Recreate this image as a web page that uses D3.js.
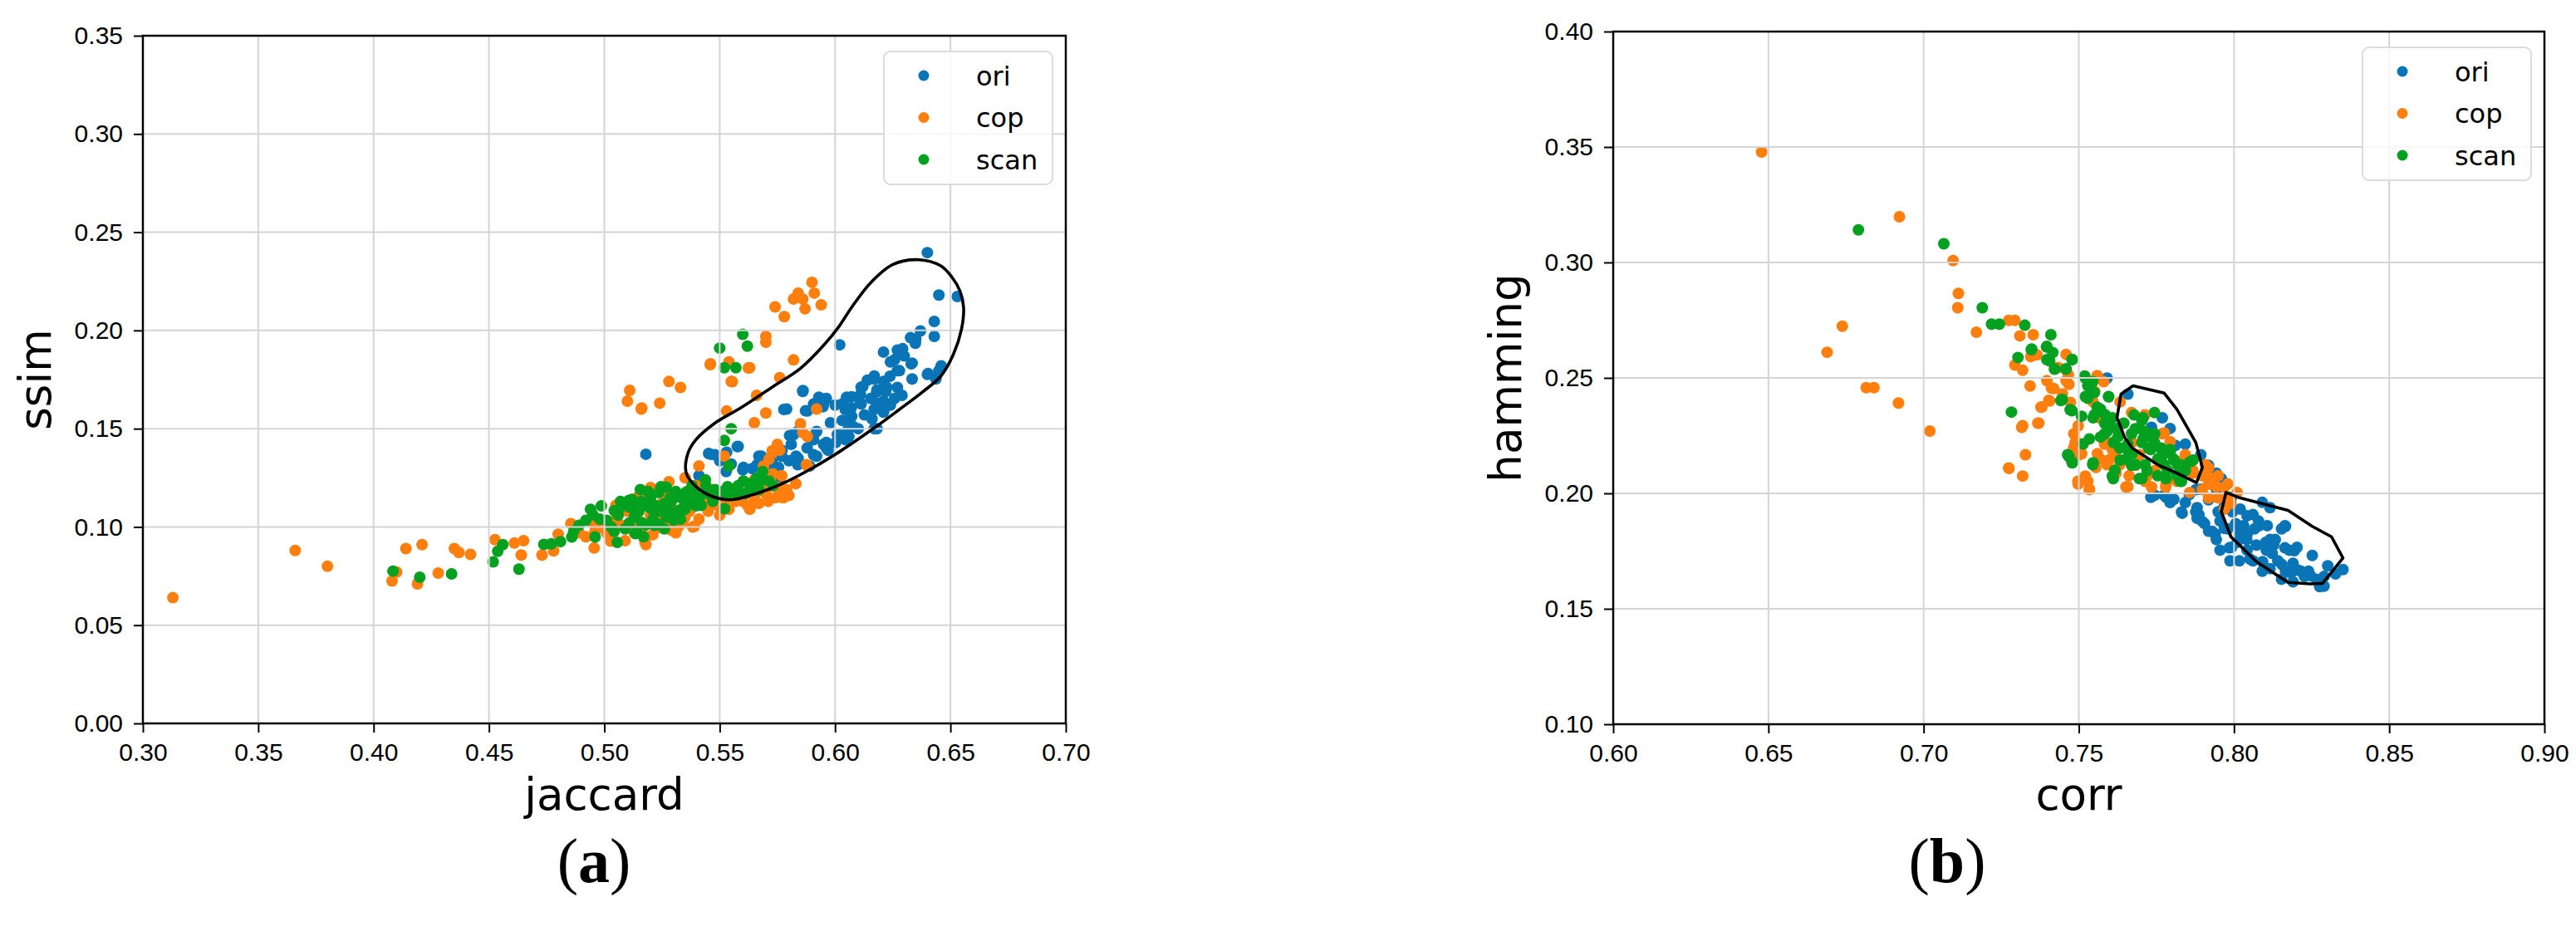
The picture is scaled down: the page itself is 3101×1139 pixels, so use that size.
<!DOCTYPE html>
<html lang="en">
  <head>
    <meta charset="UTF-8" />
    <title>Similarity scatter panels</title>
    <script src="https://d3js.org/d3.v7.min.js"></script>
    <style>
      body {
        margin: 0;
        background: #fff;
      }
      svg {
        display: block;
        font-family: "DejaVu Sans", sans-serif;
      }
      .grid line {
        stroke: #d4d4d4;
        stroke-width: 2px;
      }
      .axis path {
        display: none;
      }
      .axis line {
        stroke: #000;
        stroke-width: 2px;
      }
      .axis text {
        font-size: 30px;
        fill: #000;
      }
    </style>
  </head>
  <body>
    <svg width="3101" height="1139"></svg>

    <script>
      const seriesNames = ["ori", "cop", "scan"];
      const seriesColors = ["#0a75b6", "#ff7f0e", "#04a020"];

      // panel (a): jaccard vs ssim
      const aXTicks = [0.3, 0.35, 0.4, 0.45, 0.5, 0.55, 0.6, 0.65, 0.7];
      const aYTicks = [0, 0.05, 0.1, 0.15, 0.2, 0.25, 0.3, 0.35];

      const aOri = [
        [0.640,0.2396],[0.645,0.218],[0.653,0.2173],[0.643,0.2046],[0.637,0.1997],[0.635,0.1957],[0.643,0.197],
        [0.602,0.1927],[0.621,0.189],[0.627,0.19],[0.63,0.187],[0.624,0.184],[0.633,0.183],[0.627,0.1795],
        [0.64,0.1776],[0.645,0.1795],[0.646,0.182],[0.614,0.1747],[0.617,0.1768],[0.612,0.1714],[0.621,0.174],
        [0.618,0.1687],[0.586,0.169],[0.611,0.1674],[0.605,0.166],[0.593,0.166],[0.595,0.163],[0.6,0.162],
        [0.607,0.1606],[0.579,0.16],[0.588,0.159],[0.621,0.159],[0.624,0.162],[0.616,0.155],[0.605,0.154],
        [0.598,0.153],[0.617,0.15],[0.601,0.147],[0.606,0.146],[0.59,0.1445],[0.582,0.147],[0.595,0.142],
        [0.581,0.142],[0.577,0.139],[0.592,0.136],[0.584,0.135],[0.589,0.131],[0.58,0.1337],[0.568,0.136],
        [0.558,0.141],[0.546,0.137],[0.518,0.137],[0.553,0.138],[0.55,0.1337],[0.56,0.129],[0.555,0.132],
        [0.573,0.131],[0.568,0.1256],[0.576,0.124],[0.564,0.1297],[0.597,0.139],[0.608,0.151],[0.611,0.163],
        [0.627,0.171],[0.629,0.167],[0.618,0.163],[0.622,0.169],[0.6327,0.1963],[0.6348,0.1935],[0.6293,0.1907],
        [0.6258,0.1851],[0.6334,0.1834],[0.6458,0.1809],[0.6403,0.1781],[0.6437,0.1753],[0.6334,0.1753],
        [0.6279,0.1795],[0.6238,0.1767],[0.6169,0.1753],[0.6113,0.1711],[0.6182,0.1697],[0.6224,0.1711],
        [0.6258,0.1654],[0.621,0.164],[0.6155,0.1654],[0.6113,0.1626],[0.6169,0.1598],[0.621,0.1584],
        [0.6127,0.157],[0.6072,0.1563],[0.6044,0.1598],[0.6072,0.1662],[0.6031,0.1626],[0.5962,0.1654],
        [0.5948,0.1612],[0.5907,0.1626],[0.6031,0.1542],[0.6058,0.15],[0.61,0.15],[0.6182,0.15],[0.6017,0.1472],
        [0.6045,0.1444],[0.6003,0.143],[0.5962,0.143],[0.592,0.1486],[0.5907,0.1444],[0.5962,0.1402],
        [0.5879,0.1402],[0.5838,0.1486],[0.5803,0.1465],[0.5861,0.1694],[0.5778,0.1598],[0.5872,0.1591],
        [0.5907,0.1367],[0.5831,0.136],[0.5838,0.1317],[0.5769,0.136],[0.5727,0.1331],[0.567,0.136],
        [0.5662,0.1317],[0.5755,0.1303],[0.5603,0.1303],[0.5576,0.1409],[0.5452,0.1374],[0.5479,0.1367],
        [0.5528,0.1282],[0.541,0.1261]
      ];

      const aCop = [
        [0.313,0.064],[0.366,0.088],[0.38,0.08],[0.408,0.0725],[0.41,0.077],[0.414,0.089],[0.421,0.091],
        [0.419,0.071],[0.428,0.0765],[0.435,0.089],[0.437,0.087],[0.442,0.086],[0.4526,0.0935],[0.461,0.0918],
        [0.465,0.093],[0.464,0.0857],[0.473,0.0857],[0.478,0.0878],[0.48,0.0963],[0.4855,0.1017],[0.492,0.095],
        [0.496,0.098],[0.4956,0.0893],[0.5027,0.0928],[0.518,0.091],[0.518,0.095],[0.5228,0.0994],[0.529,0.0984],
        [0.539,0.1003],[0.541,0.131],[0.535,0.125],[0.528,0.123],[0.512,0.1076],[0.5228,0.1048],[0.535,0.116],
        [0.59,0.2245],[0.591,0.219],[0.584,0.219],[0.582,0.216],[0.586,0.216],[0.587,0.211],[0.594,0.213],
        [0.574,0.212],[0.578,0.207],[0.57,0.197],[0.57,0.194],[0.582,0.185],[0.546,0.183],[0.554,0.184],
        [0.563,0.181],[0.555,0.174],[0.528,0.174],[0.533,0.171],[0.511,0.1695],[0.51,0.164],[0.516,0.16],
        [0.524,0.163],[0.576,0.176],[0.566,0.167],[0.553,0.159],[0.57,0.158],[0.592,0.16],[0.565,0.153],
        [0.585,0.1525],[0.586,0.148],[0.588,0.146],[0.575,0.142],[0.573,0.138],[0.576,0.139],[0.569,0.131],
        [0.588,0.131],[0.573,0.127],[0.565,0.124],[0.577,0.115],[0.563,0.109],[0.552,0.136],[0.5727,0.1388],
        [0.5714,0.1345],[0.5769,0.1261],[0.5776,0.1149],[0.5631,0.1093],[0.5741,0.1149],[0.5686,0.1184],
        [0.5452,0.1135],[0.5383,0.1],[0.5176,0.0924],[0.5876,0.1317],[0.5459,0.1826],[0.5624,0.1809],
        [0.5555,0.1739],[0.5162,0.1605],[0.505,0.104],[0.51,0.108],[0.515,0.103],[0.52,0.106],[0.525,0.112],
        [0.53,0.109],[0.535,0.105],[0.54,0.112],[0.545,0.108],[0.548,0.115],[0.552,0.112],[0.558,0.118],
        [0.56,0.113],[0.565,0.115],[0.57,0.117],[0.575,0.12],[0.58,0.116],[0.513,0.097],[0.532,0.1],
        [0.55,0.106],[0.536,0.118],[0.527,0.117],
        [0.498,0.1],[0.501,0.097],[0.507,0.101],[0.509,0.093],[0.512,0.1],[0.516,0.099],[0.521,0.096],
        [0.524,0.102],[0.528,0.104],[0.531,0.097],[0.534,0.102],[0.537,0.108],[0.541,0.104],[0.543,0.115],
        [0.546,0.119],[0.549,0.111],[0.554,0.109],[0.557,0.113],[0.562,0.111],[0.567,0.112],[0.571,0.113],
        [0.579,0.119],[0.583,0.122],[0.572,0.124],[0.54,0.121],[0.52,0.12],[0.515,0.116],[0.505,0.111],
        [0.494,0.103],[0.489,0.097]
      ];

      const aScan = [
        [0.4084,0.0775],[0.42,0.0744],[0.4338,0.0761],[0.4518,0.0822],[0.4538,0.0876],[0.456,0.091],[0.463,0.0785],
        [0.4738,0.0911],[0.477,0.0914],[0.481,0.0925],[0.4859,0.0949],[0.4867,0.0977],[0.489,0.1008],[0.492,0.1034],
        [0.494,0.109],[0.495,0.1062],[0.4987,0.1107],[0.496,0.0949],[0.5056,0.0921],[0.5043,0.1083],[0.5075,0.1105],
        [0.512,0.114],[0.5148,0.1119],[0.5188,0.1105],[0.514,0.0977],[0.517,0.095],[0.52,0.1147],[0.5236,0.1175],
        [0.5268,0.1203],[0.526,0.1119],[0.528,0.1076],[0.53,0.1034],[0.5333,0.109],[0.5365,0.1133],[0.538,0.121],
        [0.541,0.1147],[0.5236,0.1013],[0.5108,0.102],[0.5043,0.0977],[0.501,0.1034],[0.5156,0.119],
        [0.56,0.198],[0.55,0.191],[0.562,0.192],[0.552,0.181],[0.557,0.181],[0.555,0.15],[0.552,0.144],[0.554,0.131],
        [0.5438,0.124],[0.548,0.119],[0.5534,0.1205],[0.5603,0.1233],[0.5659,0.1247],[0.5686,0.1282],[0.5714,0.1233],
        [0.5631,0.1191],[0.5576,0.1163],[0.5521,0.1093],[0.5355,0.1177],[0.5397,0.1107],[0.5286,0.1149],
        [0.5245,0.1205],[0.5204,0.1093],[0.5162,0.1022],[0.5135,0.0966],[0.5217,0.1008],[0.5314,0.1079],
        [0.5107,0.1135],[0.545,0.117],[0.558,0.121],[0.565,0.121],[0.507,0.113],[0.515,0.108],[0.533,0.115],
        [0.519,0.118],[0.535,0.112],
        [0.498,0.104],[0.503,0.1],[0.506,0.106],[0.509,0.099],[0.511,0.11],[0.516,0.113],[0.518,0.101],
        [0.521,0.104],[0.522,0.111],[0.524,0.108],[0.527,0.105],[0.529,0.113],[0.531,0.118],[0.533,0.104],
        [0.535,0.109],[0.537,0.115],[0.539,0.118],[0.542,0.111],[0.544,0.121],[0.547,0.113],[0.55,0.118],
        [0.553,0.116],[0.556,0.119],[0.561,0.117],[0.563,0.122],[0.567,0.119],[0.569,0.124],[0.573,0.121],
        [0.526,0.099],[0.513,0.105]
      ];

      const aContour = [
        [0.6362,0.236],[0.6458,0.2329],[0.6506,0.2272],[0.6541,0.2202],[0.6557,0.2118],[0.6548,0.2006],
        [0.6513,0.1879],[0.6458,0.1767],[0.6375,0.1683],[0.6279,0.1598],[0.6182,0.1514],[0.6044,0.1402],
        [0.5907,0.1303],[0.5769,0.1219],[0.5659,0.117],[0.5548,0.1138],[0.5466,0.1156],[0.5397,0.1205],
        [0.5355,0.1275],[0.5362,0.1374],[0.5397,0.1444],[0.5479,0.1528],[0.559,0.1605],[0.5727,0.1711],
        [0.5852,0.1809],[0.5948,0.1921],[0.6017,0.202],[0.6072,0.2118],[0.6155,0.2244],[0.6251,0.2336]
      ];

      // panel (b): corr vs hamming
      const bXTicks = [0.6, 0.65, 0.7, 0.75, 0.8, 0.85, 0.9];
      const bYTicks = [0.1, 0.15, 0.2, 0.25, 0.3, 0.35, 0.4];

      const bOri = [
        [0.7591,0.2499],[0.7658,0.243],[0.7769,0.2327],[0.7794,0.2281],[0.7843,0.2213],[0.7893,0.2167],
        [0.7918,0.2121],[0.7943,0.2087],[0.7732,0.1983],[0.7781,0.1983],[0.7794,0.196],[0.7831,0.1919],
        [0.7893,0.2018],[0.7881,0.1892],[0.7905,0.1869],[0.793,0.1835],[0.7955,0.188],[0.7967,0.1938],
        [0.798,0.1846],[0.7992,0.1766],[0.7987,0.1708],[0.8017,0.1823],[0.8042,0.1903],[0.8066,0.1846],
        [0.8061,0.1708],[0.8091,0.1663],[0.8104,0.1754],[0.8116,0.18],[0.8141,0.1708],[0.8153,0.1846],
        [0.8166,0.1857],[0.8128,0.1777],[0.8178,0.1754],[0.8203,0.1766],[0.8166,0.1663],[0.819,0.1697],
        [0.8215,0.1663],[0.8227,0.164],[0.824,0.1663],[0.8265,0.1628],[0.829,0.1598],[0.829,0.164],
        [0.8327,0.1651],[0.8351,0.167],[0.8302,0.1686],[0.819,0.1617],[0.8153,0.1628],[0.8116,0.1674],
        [0.8042,0.1754],[0.8017,0.1708],[0.7955,0.1754],[0.7943,0.18],[0.8005,0.1869],[0.8091,0.1961],
        [0.8116,0.1938],[0.8079,0.188],[0.7881,0.1938],[0.7843,0.196],[0.7856,0.1995],[0.7918,0.1972],
        [0.7943,0.2018],[0.7992,0.1983],[0.8042,0.1823],[0.8252,0.1731],
        [0.7734,0.2286],[0.7811,0.2208],[0.7775,0.1992],[0.7806,0.1974],[0.7744,0.1992],[0.7833,0.1914],
        [0.7877,0.2016],[0.7887,0.1908],[0.7898,0.1878],[0.7918,0.1836],[0.7939,0.1824],[0.7949,0.192],
        [0.7959,0.2064],[0.7995,0.192],[0.802,0.1932],[0.8015,0.186],[0.7985,0.1764],[0.801,0.1788],
        [0.8041,0.18],[0.8051,0.1716],[0.8061,0.1908],[0.8082,0.186],[0.8102,0.1788],[0.8107,0.186],
        [0.8123,0.174],[0.8092,0.1704],[0.8164,0.186],[0.8164,0.1764],[0.8194,0.1752],[0.8154,0.1692],
        [0.8184,0.1656],[0.8205,0.1668],[0.8225,0.1656],[0.8246,0.1644],[0.8276,0.1596],[0.8133,0.18],
        [0.8072,0.1776],[0.8031,0.186],[0.7969,0.1848],[0.7877,0.192]
      ];

      const bCop = [
        [0.6478,0.3478],[0.6922,0.3198],[0.7095,0.3008],[0.7112,0.2866],[0.711,0.2804],[0.6738,0.2724],
        [0.6689,0.2611],[0.6815,0.2458],[0.684,0.2458],[0.6919,0.2391],[0.702,0.227],[0.717,0.2698],
        [0.7274,0.2749],[0.7294,0.2749],[0.731,0.2682],[0.7353,0.2687],[0.7294,0.2556],[0.7319,0.2533],
        [0.7343,0.2465],[0.7397,0.2488],[0.7412,0.2456],[0.7378,0.2373],[0.7403,0.2403],[0.7368,0.2304],
        [0.7319,0.2293],[0.7328,0.2167],[0.7274,0.211],[0.7319,0.2075],[0.7447,0.2431],[0.7459,0.2488],
        [0.7459,0.2602],[0.7434,0.2545],[0.7484,0.2258],[0.7491,0.2224],[0.7501,0.2167],[0.7497,0.2052],
        [0.7521,0.2075],[0.7534,0.2018],[0.7559,0.251],[0.7551,0.2442],[0.7546,0.2396],[0.7566,0.2327],
        [0.7583,0.2213],[0.7596,0.2144],[0.762,0.2087],[0.7608,0.219],[0.7658,0.2029],[0.7682,0.2121],
        [0.772,0.2075],[0.7744,0.2098],[0.7781,0.2041],[0.7819,0.2064],[0.7843,0.2121],[0.7868,0.2087],
        [0.7905,0.2075],[0.793,0.2064],[0.7943,0.2029],[0.798,0.2041],[0.7769,0.2258],[0.7794,0.2224],
        [0.7695,0.2167],[0.7843,0.2167],[0.767,0.235],[0.7633,0.2396],[0.7918,0.211],
        [0.7345,0.2592],[0.7365,0.26],[0.7419,0.2454],[0.7468,0.2472],[0.7466,0.2514],[0.7381,0.2374],
        [0.7406,0.24],[0.7316,0.2286],[0.7371,0.2304],[0.7275,0.2108],[0.7473,0.2394],[0.7498,0.2292],
        [0.7488,0.222],[0.7483,0.2196],[0.7509,0.2172],[0.7498,0.204],[0.7529,0.2052],[0.7534,0.2016],
        [0.758,0.2484],[0.756,0.2172],[0.7555,0.2112],[0.757,0.2148],[0.7591,0.222],[0.7591,0.2124],
        [0.7616,0.2172],[0.7632,0.2124],[0.7652,0.2028],[0.7662,0.2076],[0.7713,0.2052],[0.7734,0.2028],
        [0.7713,0.234],[0.7775,0.2262],[0.778,0.2028],[0.7816,0.2052],[0.7846,0.2124],[0.7867,0.21],
        [0.7898,0.2076],[0.7908,0.2124],[0.7918,0.204],[0.7928,0.2064],[0.7949,0.2076],[0.7969,0.2028],
        [0.7979,0.198],[0.799,0.1956],[0.801,0.2004],[0.7898,0.2016],[0.7857,0.2004],[0.7918,0.198],
        [0.7949,0.198],[0.7969,0.1932],[0.7672,0.222],[0.7765,0.2148],[0.7826,0.2136]
      ];

      const bScan = [
        [0.679,0.3141],[0.7065,0.3081],[0.7189,0.2804],[0.7219,0.2733],[0.7244,0.2733],[0.7326,0.2728],
        [0.7304,0.2588],[0.741,0.2687],[0.7397,0.2637],[0.7348,0.2625],[0.7397,0.2579],[0.7422,0.254],
        [0.7459,0.254],[0.7479,0.2579],[0.7283,0.2352],[0.7447,0.2407],[0.7472,0.2362],[0.7464,0.2167],
        [0.7479,0.2132],[0.7521,0.2499],[0.7534,0.2465],[0.7521,0.2419],[0.7546,0.2327],[0.7534,0.2236],
        [0.7546,0.2132],[0.7596,0.2419],[0.7559,0.2373],[0.7608,0.2327],[0.762,0.2281],[0.7583,0.2258],
        [0.7645,0.2304],[0.767,0.2258],[0.7658,0.2213],[0.7695,0.2281],[0.7707,0.2236],[0.7732,0.219],
        [0.7744,0.2258],[0.7769,0.2167],[0.7794,0.219],[0.7806,0.2144],[0.7819,0.2121],[0.7843,0.2098],
        [0.7781,0.2064],[0.772,0.2098],[0.767,0.2121],[0.7633,0.2144],[0.7608,0.2075],[0.7695,0.2064],
        [0.7868,0.2144],[0.7831,0.2052],[0.7744,0.235],[0.7707,0.2327],[0.7583,0.2304],
        [0.7396,0.2634],[0.7416,0.261],[0.7406,0.2574],[0.7422,0.2538],[0.7478,0.258],[0.7458,0.2538],
        [0.7347,0.2622],[0.7442,0.2402],[0.7478,0.2358],[0.7509,0.2334],[0.7468,0.216],[0.7478,0.2136],
        [0.7514,0.2214],[0.7545,0.2124],[0.7519,0.2508],[0.7529,0.2466],[0.7545,0.2484],[0.7529,0.2412],
        [0.755,0.2436],[0.7596,0.2418],[0.755,0.234],[0.757,0.2364],[0.7585,0.234],[0.76,0.2292],
        [0.757,0.2244],[0.7591,0.2268],[0.7611,0.222],[0.7626,0.2244],[0.7632,0.2196],[0.7616,0.21],
        [0.7611,0.2064],[0.7652,0.2148],[0.7672,0.2172],[0.7678,0.234],[0.7703,0.2316],[0.7682,0.228],
        [0.7713,0.2268],[0.7703,0.222],[0.7724,0.2196],[0.7744,0.222],[0.7734,0.2244],[0.7765,0.2196],
        [0.7775,0.2172],[0.7795,0.2184],[0.7806,0.2148],[0.7826,0.2124],[0.7857,0.2136],[0.7836,0.21],
        [0.7816,0.2076],[0.7826,0.2052],[0.7754,0.2076],[0.7713,0.2124],[0.7703,0.2064],[0.7683,0.2124],
        [0.7662,0.2172],[0.7775,0.2124],[0.7754,0.2148],[0.7785,0.21]
      ];

      const bContourUpper = [
        [0.7675,0.2466],[0.7775,0.2434],[0.7816,0.2364],[0.7877,0.222],[0.7898,0.2112],[0.7879,0.2046],
        [0.7816,0.2088],[0.7754,0.2124],[0.7672,0.2196],[0.7647,0.2244],[0.7623,0.2328],[0.7636,0.243]
      ];
      const bContourLower = [
        [0.7974,0.2004],[0.802,0.198],[0.8174,0.1926],[0.8252,0.1857],[0.8314,0.1812],[0.8351,0.172],
        [0.8285,0.161],[0.8246,0.1608],[0.8174,0.1614],[0.8072,0.1704],[0.799,0.1812],[0.7959,0.192]
      ];

      const svg = d3.select("svg");

      function drawPanel(p) {
        const x = d3.scaleLinear().domain(p.xDomain).range([p.left, p.right]);
        const y = d3.scaleLinear().domain(p.yDomain).range([p.bottom, p.top]);
        const g = svg.append("g");

        // points, in plotting order ori -> cop -> scan
        p.series.forEach((pts, i) => {
          g.append("g")
            .selectAll("circle")
            .data(pts)
            .join("circle")
            .attr("cx", (d) => x(d[0]))
            .attr("cy", (d) => y(d[1]))
            .attr("r", 7)
            .attr("fill", seriesColors[i]);
        });

        // grid (matplotlib draws it above the scatter)
        const grid = g.append("g").attr("class", "grid");
        grid.selectAll(".vx").data(p.xTicks).join("line").attr("class", "vx")
          .attr("x1", (d) => x(d)).attr("x2", (d) => x(d))
          .attr("y1", p.top).attr("y2", p.bottom);
        grid.selectAll(".hy").data(p.yTicks).join("line").attr("class", "hy")
          .attr("x1", p.left).attr("x2", p.right)
          .attr("y1", (d) => y(d)).attr("y2", (d) => y(d));

        // enclosing outlines
        const outline = d3.line()
          .x((d) => x(d[0]))
          .y((d) => y(d[1]))
          .curve(p.smooth ? d3.curveCatmullRomClosed.alpha(0.5) : d3.curveLinearClosed);
        p.contours.forEach((c) => {
          g.append("path").attr("d", outline(c))
            .attr("fill", "none").attr("stroke", "#000")
            .attr("stroke-width", 3.6).attr("stroke-linejoin", "round");
        });

        // axes
        g.append("g").attr("class", "axis")
          .attr("transform", `translate(0,${p.bottom})`)
          .call(d3.axisBottom(x).tickValues(p.xTicks).tickFormat(d3.format(".2f")).tickSize(11).tickPadding(13));
        g.append("g").attr("class", "axis")
          .attr("transform", `translate(${p.left},0)`)
          .call(d3.axisLeft(y).tickValues(p.yTicks).tickFormat(d3.format(".2f")).tickSize(11).tickPadding(13));

        // frame
        g.append("rect")
          .attr("x", p.left).attr("y", p.top)
          .attr("width", p.right - p.left).attr("height", p.bottom - p.top)
          .attr("fill", "none").attr("stroke", "#000").attr("stroke-width", 2.5);

        // axis titles
        g.append("text")
          .attr("x", (p.left + p.right) / 2).attr("y", 975)
          .attr("text-anchor", "middle").attr("font-size", 53)
          .text(p.xLabel);
        g.append("text")
          .attr("transform", `translate(${p.left - 111},${(p.top + p.bottom) / 2}) rotate(-90)`)
          .attr("text-anchor", "middle").attr("font-size", 53)
          .text(p.yLabel);

        // legend
        const lw = 203, lh = 160;
        const lx = p.right - 16 - lw, ly = p.top + 19;
        const leg = g.append("g").attr("transform", `translate(${lx},${ly})`);
        leg.append("rect").attr("width", lw).attr("height", lh).attr("rx", 8)
          .attr("fill", "#fff").attr("fill-opacity", 0.8)
          .attr("stroke", "#dcdcdc").attr("stroke-width", 2);
        seriesNames.forEach((name, i) => {
          const row = leg.append("g").attr("transform", `translate(0,${29 + i * 50.5})`);
          row.append("circle").attr("cx", 48).attr("cy", 0).attr("r", 6.5).attr("fill", seriesColors[i]);
          row.append("text").attr("x", 111).attr("y", 0).attr("dy", "0.36em")
            .attr("font-size", 32).text(name);
        });

        // panel tag
        const tag = svg.append("text")
          .attr("x", p.tagX).attr("y", 1062)
          .attr("text-anchor", "middle")
          .attr("font-family", "'Liberation Serif', serif")
          .attr("font-size", 76);
        tag.append("tspan").text("(");
        tag.append("tspan").attr("font-weight", "bold").text(p.tag);
        tag.append("tspan").text(")");
      }

      drawPanel({
        left: 172, right: 1283, top: 43, bottom: 871,
        xDomain: [0.3, 0.7], yDomain: [0, 0.35],
        xTicks: aXTicks, yTicks: aYTicks,
        xLabel: "jaccard", yLabel: "ssim",
        series: [aOri, aCop, aScan],
        contours: [aContour], smooth: true,
        tag: "a", tagX: 715
      });

      drawPanel({
        left: 1942, right: 3063, top: 38, bottom: 872,
        xDomain: [0.6, 0.9], yDomain: [0.1, 0.4],
        xTicks: bXTicks, yTicks: bYTicks,
        xLabel: "corr", yLabel: "hamming",
        series: [bOri, bCop, bScan],
        contours: [bContourUpper, bContourLower], smooth: false,
        tag: "b", tagX: 2344
      });
    </script>
  </body>
</html>
